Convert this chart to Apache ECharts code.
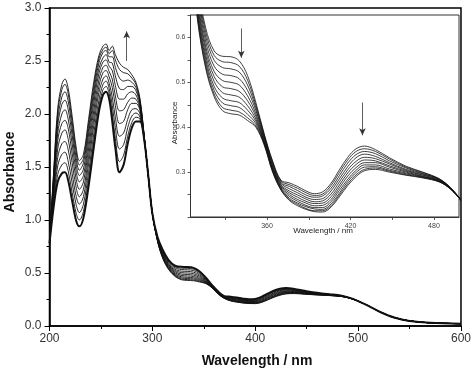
<!DOCTYPE html>
<html><head><meta charset="utf-8">
<script src="https://cdn.jsdelivr.net/npm/echarts@6/dist/echarts.min.js"></script>
<style>html,body{margin:0;padding:0;background:#fff}#c{width:474px;height:372px}</style>
</head><body><div id="c"></div>
<script>
const wavelength = [
200,204,208,212,215,218,222,226,229,233,
238,243,248,252,255,258,261,264,268,272,
276,280,284,288,292,296,300,305,310,316,
322,328,334,340,346,352,358,364,370,376,
382,388,394,400,406,412,418,424,430,438,
448,460,472,484,492,
500,510,522,535,550,570,600];
const abs0 = [
0.78,1.12,1.36,1.44,1.45,1.38,1.18,0.99,0.94,1.02,
1.32,1.68,2.02,2.18,2.21,2.14,1.93,1.68,1.45,1.52,
1.72,1.87,1.93,1.93,1.76,1.42,1.06,0.840,0.720,0.620,
0.570,0.558,0.557,0.548,0.515,0.455,0.385,0.325,0.282,0.276,
0.268,0.258,0.252,0.256,0.275,0.305,0.333,0.352,0.358,0.350,
0.332,0.313,0.300,0.285,0.265,
0.235,0.19,0.13,0.08,0.048,0.03,0.022];
const abs1 = [
0.78,1.15,1.43,1.52,1.54,1.47,1.26,1.06,1.00,1.08,
1.38,1.74,2.07,2.23,2.26,2.19,2.00,1.77,1.55,1.61,
1.79,1.92,1.97,1.95,1.76,1.42,1.06,0.836,0.712,0.611,
0.560,0.546,0.544,0.536,0.505,0.449,0.383,0.323,0.280,0.272,
0.264,0.254,0.248,0.251,0.270,0.299,0.327,0.346,0.352,0.346,
0.329,0.311,0.299,0.284,0.265,
0.235,0.19,0.13,0.08,0.048,0.03,0.022];
const abs2 = [
0.78,1.19,1.51,1.62,1.64,1.56,1.35,1.14,1.07,1.15,
1.45,1.81,2.13,2.28,2.31,2.24,2.08,1.87,1.67,1.71,
1.87,1.98,2.01,1.97,1.77,1.42,1.06,0.832,0.703,0.601,
0.549,0.533,0.530,0.523,0.494,0.443,0.380,0.320,0.277,0.268,
0.259,0.249,0.244,0.247,0.264,0.292,0.320,0.339,0.346,0.341,
0.325,0.309,0.297,0.284,0.264,
0.235,0.19,0.13,0.08,0.048,0.03,0.022];
const abs3 = [
0.79,1.23,1.59,1.72,1.74,1.67,1.44,1.22,1.15,1.22,
1.53,1.89,2.20,2.33,2.36,2.29,2.16,1.97,1.79,1.82,
1.95,2.04,2.05,2.00,1.77,1.42,1.06,0.827,0.694,0.590,
0.536,0.518,0.515,0.508,0.482,0.437,0.377,0.317,0.275,0.263,
0.254,0.244,0.239,0.241,0.258,0.285,0.312,0.332,0.340,0.335,
0.321,0.306,0.296,0.283,0.264,
0.235,0.19,0.13,0.08,0.048,0.03,0.022];
const abs4 = [
0.79,1.27,1.67,1.82,1.85,1.77,1.54,1.30,1.22,1.29,
1.60,1.96,2.26,2.39,2.41,2.35,2.25,2.08,1.91,1.93,
2.04,2.10,2.10,2.03,1.78,1.42,1.06,0.822,0.684,0.579,
0.524,0.504,0.500,0.494,0.470,0.430,0.374,0.314,0.272,0.258,
0.249,0.240,0.234,0.236,0.251,0.278,0.305,0.324,0.333,0.330,
0.318,0.304,0.294,0.282,0.264,
0.235,0.19,0.13,0.08,0.048,0.03,0.022];
const abs5 = [
0.79,1.31,1.75,1.91,1.94,1.87,1.63,1.38,1.29,1.36,
1.67,2.03,2.32,2.44,2.46,2.40,2.33,2.17,2.03,2.04,
2.11,2.15,2.14,2.05,1.78,1.42,1.06,0.818,0.675,0.570,
0.513,0.490,0.486,0.480,0.459,0.424,0.371,0.311,0.270,0.254,
0.244,0.235,0.230,0.231,0.245,0.271,0.298,0.317,0.327,0.325,
0.314,0.302,0.293,0.281,0.263,
0.235,0.19,0.13,0.08,0.048,0.03,0.022];
const abs6 = [
0.79,1.34,1.82,2.00,2.04,1.96,1.72,1.45,1.36,1.42,
1.74,2.10,2.38,2.49,2.51,2.45,2.41,2.27,2.14,2.14,
2.19,2.21,2.18,2.07,1.79,1.42,1.06,0.813,0.666,0.560,
0.502,0.477,0.472,0.467,0.448,0.418,0.368,0.308,0.267,0.250,
0.239,0.231,0.225,0.226,0.239,0.265,0.291,0.310,0.321,0.321,
0.311,0.300,0.291,0.280,0.263,
0.235,0.19,0.13,0.08,0.048,0.03,0.022];
const abs7 = [
0.80,1.37,1.89,2.09,2.13,2.05,1.80,1.52,1.42,1.48,
1.81,2.16,2.43,2.53,2.56,2.49,2.48,2.36,2.24,2.23,
2.26,2.26,2.22,2.09,1.79,1.42,1.06,0.809,0.658,0.551,
0.491,0.465,0.459,0.455,0.438,0.413,0.366,0.306,0.265,0.246,
0.235,0.226,0.221,0.221,0.234,0.259,0.284,0.304,0.316,0.316,
0.307,0.298,0.290,0.280,0.263,
0.235,0.19,0.13,0.08,0.048,0.03,0.022];
const abs8 = [
0.80,1.40,1.95,2.16,2.21,2.13,1.87,1.58,1.47,1.54,
1.86,2.21,2.48,2.58,2.60,2.54,2.54,2.44,2.34,2.31,
2.32,2.30,2.25,2.11,1.79,1.42,1.06,0.806,0.651,0.543,
0.482,0.454,0.448,0.444,0.429,0.408,0.364,0.304,0.263,0.242,
0.231,0.223,0.218,0.217,0.229,0.253,0.279,0.299,0.311,0.312,
0.304,0.296,0.289,0.279,0.262,
0.235,0.19,0.13,0.08,0.048,0.03,0.022];
const abs9 = [
0.80,1.43,2.01,2.23,2.28,2.20,1.93,1.64,1.52,1.58,
1.91,2.26,2.52,2.61,2.63,2.57,2.60,2.51,2.42,2.39,
2.38,2.34,2.28,2.13,1.80,1.42,1.06,0.802,0.645,0.535,
0.474,0.444,0.438,0.434,0.421,0.403,0.362,0.302,0.261,0.239,
0.228,0.219,0.214,0.214,0.225,0.249,0.274,0.294,0.306,0.309,
0.302,0.294,0.288,0.278,0.262,
0.235,0.19,0.13,0.08,0.048,0.03,0.022];
const abs10 = [
0.80,1.45,2.05,2.28,2.33,2.25,1.98,1.68,1.56,1.62,
1.95,2.30,2.55,2.64,2.66,2.60,2.64,2.56,2.48,2.44,
2.42,2.37,2.30,2.14,1.80,1.42,1.06,0.800,0.640,0.530,
0.468,0.437,0.430,0.427,0.415,0.400,0.360,0.300,0.260,0.237,
0.225,0.217,0.212,0.211,0.222,0.245,0.270,0.290,0.303,0.306,
0.300,0.293,0.287,0.278,0.262,
0.235,0.19,0.13,0.08,0.048,0.03,0.022];

const curves = [abs0,abs1,abs2,abs3,abs4,abs5,abs6,abs7,abs8,abs9,abs10];
const mainYLabels = [0,0.5,1,1.5,2,2.5,3];
const insetXLabels = [360,420,480];
const insetXTicks = [330,360,390,420,450,480];
// arrows (data coordinates)
const mainArrow = [[275,2.50],[275,2.78]];
const insetArrow1 = [[341.5,0.62],[341.5,0.555]];
const insetArrow2 = [[428.6,0.455],[428.6,0.382]];

const chart = echarts.init(document.getElementById('c'), null, {renderer:'canvas'});
const FONT = 'Liberation Sans, Arial, sans-serif';
const series = [];
curves.forEach((arr, k) => {
  const data = wavelength.map((w,i) => [w, arr[i]]);
  const bold = k === 0;
  series.push({
    type:'line', xAxisIndex:0, yAxisIndex:0, data, showSymbol:false, smooth:0.35,
    lineStyle:{color:'#111', width: bold ? 2.0 : 0.9}, silent:true, animation:false, z: bold?3:2
  });
  series.push({
    type:'line', xAxisIndex:1, yAxisIndex:1, data, showSymbol:false, smooth:0.35,
    lineStyle:{color:'#111', width: 0.8}, silent:true, animation:false, clip:true
  });
});
function arrowLine(pts, width, color) {
  return {
    silent:true, animation:false, symbol:['none','arrow'], symbolSize:[5,7],
    label:{show:false}, lineStyle:{color:color, width:width, type:'solid'},
    data:[[{coord:pts[0]},{coord:pts[1]}]]
  };
}
series[0].markLine = arrowLine(mainArrow, 0.8, '#333');
series[1].markLine = {
  silent:true, animation:false, symbol:['none','arrow'], symbolSize:[5,7],
  label:{show:false}, lineStyle:{color:'#333', width:0.8, type:'solid'},
  data:[[{coord:insetArrow1[0]},{coord:insetArrow1[1]}],[{coord:insetArrow2[0]},{coord:insetArrow2[1]}]]
};

const option = {
  animation:false,
  backgroundColor:'#fff',
  grid:[
    {left:49.5, top:8, width:415.5, height:318, show:true, borderColor:'#000', borderWidth:1.5, backgroundColor:'transparent'},
    {left:190.5, top:15, width:268.5, height:202, show:true, borderColor:'#333', borderWidth:1, backgroundColor:'#fff'}
  ],
  xAxis:[
    {type:'value', gridIndex:0, min:200, max:600, interval:100,
     axisLine:{show:true, onZero:false, lineStyle:{color:'#000', width:1.5}},
     axisTick:{show:true, length:5, lineStyle:{color:'#000', width:1}},
     minorTick:{show:true, splitNumber:2, length:3, lineStyle:{color:'#000', width:1}},
     splitLine:{show:false},
     axisLabel:{color:'#333', fontSize:12, fontFamily:FONT, margin:7}},
    {type:'value', gridIndex:1, min:305, max:498,
     axisLine:{show:true, onZero:false, lineStyle:{color:'#333', width:1}},
     axisTick:{show:true, length:3, customValues:insetXTicks, lineStyle:{color:'#333', width:0.8}},
     splitLine:{show:false},
     axisLabel:{color:'#444', fontSize:7, fontFamily:FONT, margin:6, customValues:insetXLabels}}
  ],
  yAxis:[
    {type:'value', gridIndex:0, min:0, max:3, interval:0.5,
     axisLine:{show:true, onZero:false, lineStyle:{color:'#000', width:1.5}},
     axisTick:{show:true, length:5, lineStyle:{color:'#000', width:1}},
     minorTick:{show:true, splitNumber:2, length:3, lineStyle:{color:'#000', width:1}},
     splitLine:{show:false},
     axisLabel:{color:'#333', fontSize:12, fontFamily:FONT, margin:8, formatter:v => v.toFixed(1)}},
    {type:'value', gridIndex:1, min:0.2, max:0.65, interval:0.05,
     axisLine:{show:true, onZero:false, lineStyle:{color:'#333', width:1}},
     axisTick:{show:true, length:3, lineStyle:{color:'#333', width:0.8}},
     splitLine:{show:false},
     axisLabel:{color:'#444', fontSize:7, fontFamily:FONT, margin:5,
       formatter: v => { const r = Math.round(v*100); return (r % 10 === 0 && r >= 30) ? (r/100).toFixed(1) : ''; }}}
  ],
  graphic:[
    {type:'text', left:'center', x:0, style:{text:'Wavelength / nm', font:'bold 14px '+FONT, fill:'#111', x:257, y:361, align:'center', verticalAlign:'middle'}},
    {type:'text', style:{text:'Absorbance', font:'bold 14px '+FONT, fill:'#111', align:'center', verticalAlign:'middle'}, x:10, y:172, rotation:Math.PI/2},
    {type:'text', style:{text:'Wavelength / nm', font:'8px '+FONT, fill:'#222', x:323, y:231, align:'center', verticalAlign:'middle'}},
    {type:'text', style:{text:'Absorbance', font:'8px '+FONT, fill:'#222', align:'center', verticalAlign:'middle'}, x:175, y:123, rotation:Math.PI/2}
  ],
  series
};
option.graphic[0] = {type:'text', style:{text:'Wavelength / nm', font:'bold 14px '+FONT, fill:'#111', x:257, y:361, align:'center', verticalAlign:'middle'}};
chart.setOption(option);
</script>
</body></html>
